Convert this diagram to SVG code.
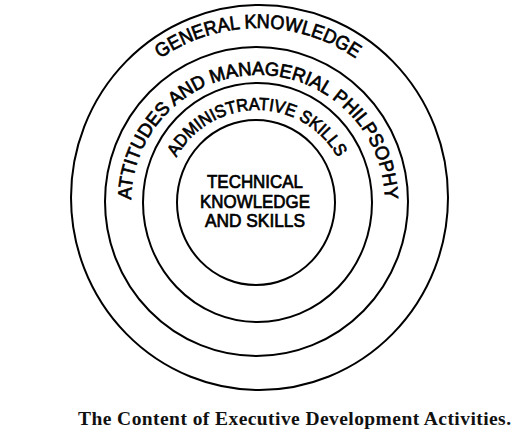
<svg xmlns="http://www.w3.org/2000/svg" xmlns:xlink="http://www.w3.org/1999/xlink" width="526" height="440" viewBox="0 0 526 440">
<style>
.ring{fill:none;stroke:#000;stroke-width:2}
.lbl{font-family:"Liberation Sans",Arial,sans-serif;fill:#000;stroke:#000;stroke-width:0.7}
.cap{font-family:"Liberation Serif","Times New Roman",serif;font-weight:bold;fill:#111}
</style>
<defs>
<path id="arcGK" d="M 86,200 A 172,172 0 0 1 430,200"/>
<path id="arcATT" d="M 131,202 A 127,127 0 0 1 385,202"/>
<path id="arcADM" d="M 165,202 A 92,92 0 0 1 349,202"/>
</defs>
<rect width="526" height="440" fill="#fff"/>
<g id="general-knowledge">
<ellipse class="ring" cx="259.5" cy="197.5" rx="188.5" ry="192.5"/>
<text class="lbl" font-size="19.5"><textPath xlink:href="#arcGK" href="#arcGK" startOffset="50%" text-anchor="middle" textLength="208" lengthAdjust="spacingAndGlyphs">GENERAL KNOWLEDGE</textPath></text>
</g>
<g id="attitudes">
<ellipse class="ring" cx="256.5" cy="201.5" rx="151.5" ry="154.5"/>
<text class="lbl" font-size="19"><textPath xlink:href="#arcATT" href="#arcATT" startOffset="50%" text-anchor="middle" textLength="394" lengthAdjust="spacingAndGlyphs">ATTITUDES AND MANAGERIAL PHILPSOPHY</textPath></text>
</g>
<g id="administrative">
<ellipse class="ring" cx="257.5" cy="202.5" rx="114.5" ry="119.5"/>
<text class="lbl" font-size="17.5"><textPath xlink:href="#arcADM" href="#arcADM" startOffset="50%" text-anchor="middle" textLength="196" lengthAdjust="spacingAndGlyphs">ADMINISTRATIVE SKILLS</textPath></text>
</g>
<g id="technical">
<ellipse class="ring" cx="256" cy="202.5" rx="79" ry="82.5"/>
<text class="lbl" font-size="18" text-anchor="middle"><tspan x="255" y="188" textLength="96" lengthAdjust="spacingAndGlyphs">TECHNICAL</tspan><tspan x="255" y="207.5" textLength="110" lengthAdjust="spacingAndGlyphs">KNOWLEDGE</tspan><tspan x="255" y="227" textLength="100" lengthAdjust="spacingAndGlyphs">AND SKILLS</tspan></text>
</g>
<g id="connectors"/>
<text class="cap" x="78" y="425" font-size="19.5" textLength="433" lengthAdjust="spacing">The Content of Executive Development Activities.</text>
</svg>
